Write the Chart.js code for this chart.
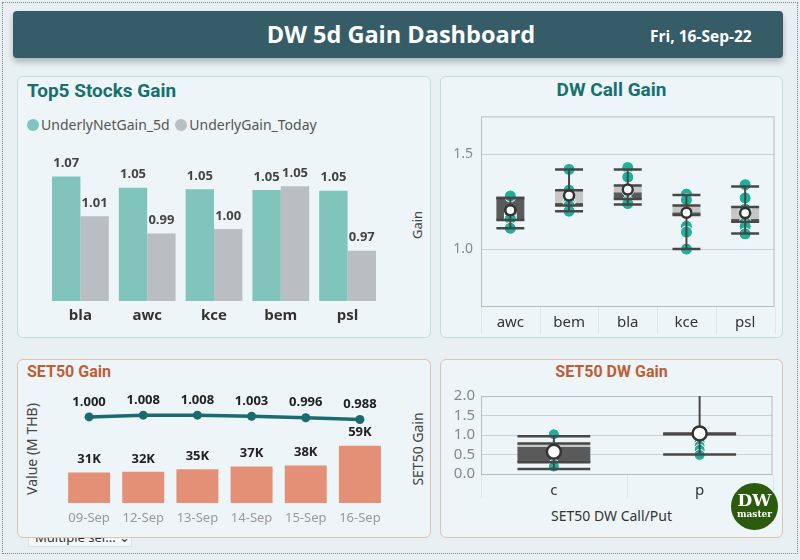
<!DOCTYPE html>
<html>
<head>
<meta charset="utf-8">
<script src="https://cdn.jsdelivr.net/npm/chart.js@4.4.0/dist/chart.umd.min.js"></script>
<style>
body{margin:0;width:800px;height:560px;background:#e8f0f4;font-family:'Noto Sans',sans-serif;position:relative;overflow:hidden}
.abs{position:absolute}
.page{left:2px;top:2px;width:796px;height:552px;border:1px dotted #85898c;box-sizing:border-box}
.header{left:13px;top:11px;width:770px;height:47px;background:#365c68;border-radius:4px;box-shadow:0 4px 6px rgba(0,0,0,.25);color:#fff}
.header .t{position:absolute;left:0;right:0;top:7px;text-align:center;font:bold 23.5px 'Open Sans',sans-serif;padding-left:6px}
.header .d{position:absolute;left:637px;top:14px;font:bold 15.5px 'Open Sans',sans-serif}
.panel{background:#edf5f8;border:1px solid #c4dcdf;border-radius:6px;box-sizing:border-box}
.warm{border-color:#dbc3b5}
.ttl{font:bold 19px Roboto,sans-serif;color:#17706e;white-space:nowrap}
.ttl2{font:bold 16px Roboto,sans-serif;color:#bd5e39;white-space:nowrap}
.rot{position:absolute;transform:translate(-50%,-50%) rotate(-90deg);white-space:nowrap;font-size:13px;color:#444}
.leg{font-size:14px;color:#555;white-space:nowrap}
.dot{display:inline-block;width:12px;height:12px;border-radius:50%;vertical-align:-1px;margin-right:2px}
.slicer{left:28px;top:519px;width:104px;height:28px;background:#f4f8fa;border:1px solid #d8e0e3;font-size:13px;color:#333;padding:8px 6px 0;box-sizing:border-box;white-space:nowrap;overflow:hidden}
.logo{left:731px;top:483px;width:47px;height:47px;border-radius:50%;background:#2c5b0e;color:#fff;text-align:center;font-family:'DejaVu Serif',serif;font-weight:bold}
canvas{position:absolute}
</style>
</head>
<body>
<div class="abs page"></div>
<div class="abs header"><div class="t">DW 5d Gain Dashboard</div><div class="d">Fri, 16-Sep-22</div></div>

<div class="abs slicer">Multiple sel... &#8964;</div>

<div class="abs panel" style="left:17px;top:76px;width:414px;height:262px"></div>
<div class="abs panel" style="left:440px;top:76px;width:343px;height:262px"></div>
<div class="abs panel warm" style="left:17px;top:359px;width:414px;height:179px"></div>
<div class="abs panel warm" style="left:440px;top:359px;width:343px;height:179px"></div>

<div class="abs ttl" style="left:27px;top:79px">Top5 Stocks Gain</div>
<div class="abs leg" style="left:27px;top:115px"><span class="dot" style="background:#80c4bb"></span>UnderlyNetGain_5d <span class="dot" style="background:#b9bec3;margin-left:2px"></span>UnderlyGain_Today</div>
<div class="abs ttl" style="left:440px;width:343px;top:78px;text-align:center">DW Call Gain</div>
<div class="abs ttl2" style="left:27px;top:362px">SET50 Gain</div>
<div class="abs ttl2" style="left:440px;width:343px;top:362px;text-align:center">SET50 DW Gain</div>

<div class="rot" style="left:417px;top:225px">Gain</div>
<div class="rot" style="left:31px;top:449px;font-size:14px">Value (M THB)</div>
<div class="rot" style="left:417px;top:449px;font-size:14px">SET50 Gain</div>
<div class="abs" style="left:440px;width:343px;top:506px;text-align:center;font-size:14px;color:#333">SET50 DW Call/Put</div>

<canvas id="topChart" width="414" height="200" style="left:17px;top:135px"></canvas>
<canvas id="callChart" width="341" height="236" style="left:441px;top:100px"></canvas>
<canvas id="setChart" width="414" height="150" style="left:17px;top:385px"></canvas>
<canvas id="dwChart" width="341" height="154" style="left:441px;top:381px"></canvas>

<div class="abs logo"><div style="font-size:17px;line-height:17px;margin-top:9px">DW</div><div style="font-size:9px;line-height:10px">master</div></div>

<script>
// Top5 stocks
var stocks = ['bla', 'awc', 'kce', 'bem', 'psl'];
var gain5d = [1.066, 1.051, 1.049, 1.048, 1.047];
var gainToday = [1.013, 0.990, 0.996, 1.053, 0.967];

// SET50 daily
var days = ['09-Sep', '12-Sep', '13-Sep', '14-Sep', '15-Sep', '16-Sep'];
var setValue = [31300, 32000, 34700, 37400, 38400, 58800];
var setGain = [1.000, 1.008, 1.008, 1.003, 0.996, 0.988];

// DW call gain box plot
var callStocks = ['awc', 'bem', 'bla', 'kce', 'psl'];
var callMin = [1.110, 1.200, 1.235, 1.000, 1.083];
var callQ1 = [1.153, 1.230, 1.265, 1.180, 1.145];
var callMed = [1.265, 1.245, 1.300, 1.195, 1.160];
var callQ3 = [1.270, 1.310, 1.335, 1.230, 1.222];
var callMax = [1.270, 1.420, 1.420, 1.286, 1.330];
var callMean = [1.205, 1.283, 1.314, 1.192, 1.190];
var callPts = [
  [1.28, 1.18, 1.16, 1.11],
  [1.42, 1.31, 1.25, 1.23, 1.20],
  [1.43, 1.38, 1.31, 1.25, 1.24],
  [1.29, 1.26, 1.19, 1.12, 1.09, 1.00],
  [1.34, 1.27, 1.21, 1.14, 1.12, 1.08]
];

// SET50 DW call/put box plot
var dwTypes = ['c', 'p'];
var dwMin = [0.13, 0.50];
var dwQ1 = [0.30, 1.02];
var dwMed = [0.70, 1.03];
var dwQ3 = [0.78, 1.04];
var dwMax = [0.97, 2.40];
var dwMean = [0.57, 1.04];
var dwPts = [
  [1.02, 0.24, 0.19],
  [0.82, 0.72, 0.62, 0.49]
];

var labelFont = 'bold 13px "Open Sans", sans-serif';

var valueLabels = {
  id: 'valueLabels',
  afterDatasetsDraw: function (chart) {
    var ctx = chart.ctx;
    ctx.save();
    ctx.textAlign = 'center';
    ctx.textBaseline = 'middle';
    chart.data.datasets.forEach(function (ds, i) {
      if (!ds.lbl) return;
      ctx.font = ds.lblFont || labelFont;
      ctx.fillStyle = ds.lblColor || '#444';
      chart.getDatasetMeta(i).data.forEach(function (el, j) {
        var v = ds.data[j], s;
        if (ds.lbl === 'k') s = Math.round(v / 1000) + 'K';
        else s = v.toFixed(ds.lbl);
        ctx.fillText(s, el.x, el.y - ds.lblGap);
      });
    });
    ctx.restore();
  }
};

// plot border and category separators under the x axis
function framePlugin(sepLen) {
  return {
    id: 'frame',
    beforeDatasetsDraw: function (chart) {
      var ctx = chart.ctx, a = chart.chartArea;
      var n = chart.data.labels.length, w = (a.right - a.left) / n;
      ctx.save();
      ctx.strokeStyle = '#b3bcc0';
      ctx.lineWidth = 1;
      ctx.strokeRect(a.left + 0.5, a.top + 0.5, a.right - a.left - 1, a.bottom - a.top);
      ctx.strokeStyle = '#dfe5e8';
      for (var i = 0; i <= n; i++) {
        var px = Math.round(a.left + i * w) + 0.5;
        ctx.beginPath();
        ctx.moveTo(px, a.bottom + 1);
        ctx.lineTo(px, a.bottom + sepLen);
        ctx.stroke();
      }
      ctx.restore();
    }
  };
}

// whiskers, caps and quartile edges, drawn between the points and the mean
function whiskerPlugin(lo, q1, q3, hi) {
  return {
    id: 'whiskers',
    beforeDatasetDraw: function (chart, args) {
      if (chart.data.datasets[args.index].role !== 'mean') return;
      var ctx = chart.ctx, a = chart.chartArea, x = chart.scales.x, y = chart.scales.y;
      var boxes = chart.getDatasetMeta(0).data;
      ctx.save();
      ctx.beginPath();
      ctx.rect(a.left, a.top, a.right - a.left, a.bottom - a.top);
      ctx.clip();
      ctx.strokeStyle = '#474747';
      lo.forEach(function (v, i) {
        var cx = x.getPixelForValue(i), hw = boxes[i].width / 2;
        ctx.lineWidth = 2;
        ctx.beginPath();
        ctx.moveTo(cx, y.getPixelForValue(hi[i]));
        ctx.lineTo(cx, y.getPixelForValue(lo[i]));
        ctx.stroke();
        ctx.lineWidth = 2.5;
        [lo[i], hi[i], q1[i], q3[i]].forEach(function (s) {
          var py = y.getPixelForValue(s);
          ctx.beginPath();
          ctx.moveTo(cx - hw, py);
          ctx.lineTo(cx + hw, py);
          ctx.stroke();
        });
      });
      ctx.restore();
    }
  };
}

function boxDatasets(cats, q1, med, q3, mean, pts, barPct, ptR, meanR) {
  var points = [];
  pts.forEach(function (arr, i) {
    arr.forEach(function (v) { points.push({ x: cats[i], y: v }); });
  });
  return [
    { type: 'bar', data: q1.map(function (v, i) { return [v, med[i]]; }), backgroundColor: '#5a5a5a',
      grouped: false, barPercentage: barPct, categoryPercentage: 1, order: 5 },
    { type: 'bar', data: med.map(function (v, i) { return [v, q3[i]]; }), backgroundColor: '#c6c6c6',
      grouped: false, barPercentage: barPct, categoryPercentage: 1, order: 4 },
    { type: 'line', data: points, showLine: false, pointRadius: ptR, pointBackgroundColor: '#1fb09c',
      pointBorderColor: '#ffffff', pointBorderWidth: 1, order: 3 },
    { type: 'line', role: 'mean', data: mean, showLine: false, pointRadius: meanR, pointBackgroundColor: '#ffffff',
      pointBorderColor: '#333333', pointBorderWidth: 2.5, order: 1 }
  ];
}

var common = {
  responsive: false,
  animation: false,
  events: [],
  plugins: { legend: { display: false }, tooltip: { enabled: false } }
};

Chart.defaults.font.family = '"Noto Sans", sans-serif';

new Chart(document.getElementById('topChart'), {
  type: 'bar',
  data: {
    labels: stocks,
    datasets: [
      { data: gain5d, backgroundColor: '#80c4bb', lbl: 2, lblGap: 13 },
      { data: gainToday, backgroundColor: '#b9bec3', lbl: 2, lblGap: 13 }
    ]
  },
  options: Object.assign({}, common, {
    layout: { padding: { left: 30, right: 50, top: 16, bottom: 0 } },
    datasets: { bar: { categoryPercentage: 0.85, barPercentage: 1 } },
    scales: {
      x: {
        grid: { display: false, drawTicks: false }, border: { display: false },
        ticks: { color: '#333', font: { size: 15, weight: 'bold', family: '"Open Sans", sans-serif' }, padding: 6 },
        afterFit: function (s) { s.height = 34; }
      },
      y: { display: false, min: 0.9, max: 1.1 }
    }
  }),
  plugins: [valueLabels]
});

new Chart(document.getElementById('setChart'), {
  data: {
    labels: days,
    datasets: [
      { type: 'line', data: setGain, yAxisID: 'yLine', borderColor: '#1b6b6e', borderWidth: 3.5,
        pointRadius: 4.5, pointBackgroundColor: '#1b6b6e', pointBorderWidth: 0, tension: 0,
        lbl: 3, lblGap: 15, lblColor: '#222', order: 1 },
      { type: 'bar', data: setValue, yAxisID: 'yBar', backgroundColor: '#e39077',
        barPercentage: 0.775, categoryPercentage: 1, lbl: 'k', lblGap: 13, lblColor: '#222', order: 2 }
    ]
  },
  options: Object.assign({}, common, {
    layout: { padding: { left: 45, right: 44, top: 5, bottom: 0 } },
    scales: {
      x: {
        grid: { display: false, drawTicks: false }, border: { display: false },
        ticks: { color: '#999', font: { size: 13 }, padding: 7 },
        afterFit: function (s) { s.height = 32; }
      },
      yBar: { display: false, position: 'left', min: 0, max: 116000 },
      yLine: { display: false, position: 'right', min: 0.6, max: 1.125 }
    }
  }),
  plugins: [valueLabels]
});

new Chart(document.getElementById('callChart'), {
  type: 'bar',
  data: {
    labels: callStocks,
    datasets: boxDatasets(callStocks, callQ1, callMed, callQ3, callMean, callPts, 0.476, 6, 5)
  },
  options: Object.assign({}, common, {
    layout: { padding: { left: 0, right: 7, top: 16, bottom: 0 } },
    scales: {
      x: {
        grid: { display: false, drawTicks: false }, border: { display: false },
        ticks: { color: '#333', font: { size: 15 }, padding: 8 },
        afterFit: function (s) { s.height = 30; }
      },
      y: {
        min: 0.7, max: 1.7,
        grid: { color: '#c9d1d4', drawTicks: false }, border: { display: false },
        ticks: { color: '#888', font: { size: 14 }, padding: 8, callback: function (v) { return v.toFixed(1); } },
        afterBuildTicks: function (s) { s.ticks = [{ value: 1.0 }, { value: 1.5 }]; },
        afterFit: function (s) { s.width = 40; }
      }
    }
  }),
  plugins: [framePlugin(28), whiskerPlugin(callMin, callQ1, callQ3, callMax)]
});

new Chart(document.getElementById('dwChart'), {
  type: 'bar',
  data: {
    labels: dwTypes,
    datasets: boxDatasets(dwTypes, dwQ1, dwMed, dwQ3, dwMean, dwPts, 0.5, 5.5, 7)
  },
  options: Object.assign({}, common, {
    layout: { padding: { left: 0, right: 7, top: 14, bottom: 0 } },
    scales: {
      x: {
        grid: { display: false, drawTicks: false }, border: { display: false },
        ticks: { color: '#333', font: { size: 15 }, padding: 8 },
        afterFit: function (s) { s.height = 61; }
      },
      y: {
        min: 0, max: 2,
        grid: { color: '#c9d1d4', drawTicks: false }, border: { display: false },
        ticks: { color: '#888', font: { size: 15 }, padding: 6, stepSize: 0.5, autoSkip: false,
          callback: function (v) { return v.toFixed(1); } },
        afterFit: function (s) { s.width = 40; }
      }
    }
  }),
  plugins: [framePlugin(24), whiskerPlugin(dwMin, dwQ1, dwQ3, dwMax)]
});
</script>
</body>
</html>
